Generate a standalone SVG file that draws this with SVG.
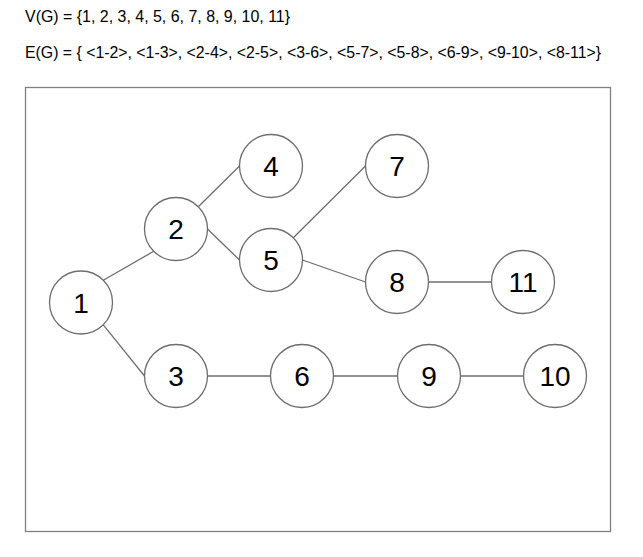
<svg xmlns="http://www.w3.org/2000/svg" width="643" height="557" viewBox="0 0 643 557">
<style>
.hdr{font-family:"Liberation Sans",Arial,sans-serif;font-size:16px;fill:#000}
.node circle{fill:#fff;stroke:#6e6e6e;stroke-width:1.3}
.node text{font-family:"Liberation Sans",Arial,sans-serif;font-size:28px;fill:#000;text-anchor:middle}
.edges line{stroke:#6e6e6e;stroke-width:1.3}
</style>
<rect width="643" height="557" fill="#fff"/>
<text class="hdr" x="25" y="22" textLength="265" lengthAdjust="spacingAndGlyphs">V(G) = {1, 2, 3, 4, 5, 6, 7, 8, 9, 10, 11}</text>
<text class="hdr" x="25" y="58" textLength="576" lengthAdjust="spacingAndGlyphs">E(G) = { &lt;1-2&gt;, &lt;1-3&gt;, &lt;2-4&gt;, &lt;2-5&gt;, &lt;3-6&gt;, &lt;5-7&gt;, &lt;5-8&gt;, &lt;6-9&gt;, &lt;9-10&gt;, &lt;8-11&gt;}</text>
<rect x="25.5" y="87.5" width="585" height="444" fill="none" stroke="#808080" stroke-width="1.3"/>
<g class="edges" id="edges">
<line x1="103.3" y1="280.2" x2="153.7" y2="251.3"/>
<line x1="103.3" y1="324.8" x2="144.5" y2="376"/>
<line x1="198.3" y1="206.7" x2="239.5" y2="166"/>
<line x1="207.5" y1="229" x2="239.5" y2="260"/>
<line x1="293.3" y1="237.7" x2="365.5" y2="166"/>
<line x1="302.5" y1="260" x2="365.5" y2="282"/>
<line x1="428.5" y1="282" x2="491.5" y2="282"/>
<line x1="207.5" y1="376" x2="270.5" y2="376"/>
<line x1="333.5" y1="376" x2="397.5" y2="376"/>
<line x1="460.5" y1="376" x2="523.5" y2="376"/>
</g>
<g class="node" id="n1"><circle cx="81" cy="302.5" r="31.5"/><text x="81" y="312.5">1</text></g>
<g class="node" id="n2"><circle cx="176" cy="229" r="31.5"/><text x="176" y="239">2</text></g>
<g class="node" id="n3"><circle cx="176" cy="376" r="31.5"/><text x="176" y="386">3</text></g>
<g class="node" id="n4"><circle cx="271" cy="166" r="31.5"/><text x="271" y="176">4</text></g>
<g class="node" id="n5"><circle cx="271" cy="260" r="31.5"/><text x="271" y="270">5</text></g>
<g class="node" id="n6"><circle cx="302" cy="376" r="31.5"/><text x="302" y="386">6</text></g>
<g class="node" id="n7"><circle cx="397" cy="166" r="31.5"/><text x="397" y="176">7</text></g>
<g class="node" id="n8"><circle cx="397" cy="282" r="31.5"/><text x="397" y="292">8</text></g>
<g class="node" id="n9"><circle cx="429" cy="376" r="31.5"/><text x="429" y="386">9</text></g>
<g class="node" id="n10"><circle cx="555" cy="376" r="31.5"/><text x="555" y="386">10</text></g>
<g class="node" id="n11"><circle cx="523" cy="282" r="31.5"/><text x="523" y="292">11</text></g>
</svg>
